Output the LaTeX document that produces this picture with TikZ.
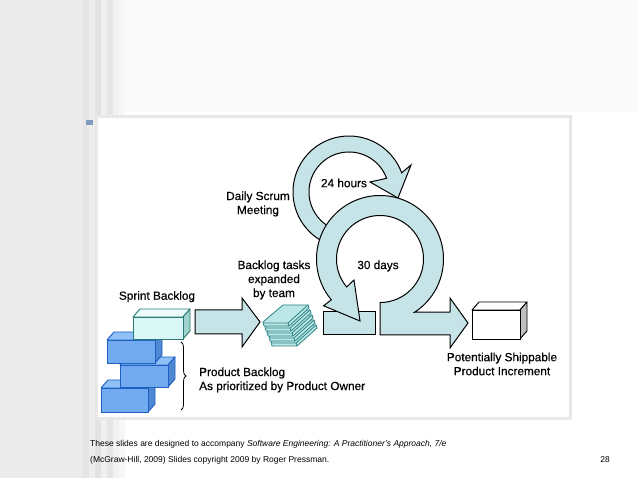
\documentclass[tikz,border=0pt]{standalone}
\usepackage{fontspec}
\setmainfont{Liberation Sans}
\newfontfamily\lblfont[FakeBold=0.4]{Liberation Sans}
\usetikzlibrary{decorations.pathreplacing}
\definecolor{band}{HTML}{C6E3E7}
\definecolor{bfront}{HTML}{72AAF0}
\definecolor{btop}{HTML}{8FC0F6}
\definecolor{bside}{HTML}{4F88D2}
\definecolor{bstroke}{HTML}{1E60C4}
\definecolor{sfront}{HTML}{D9F7F5}
\definecolor{stop}{HTML}{ECFBFA}
\definecolor{sside}{HTML}{A0D2CE}
\definecolor{sstroke}{HTML}{2C7A78}
\definecolor{tfill}{HTML}{BDE6E6}
\definecolor{tstroke}{HTML}{2A8584}
\definecolor{bullet}{HTML}{7F9CC0}
\newcommand\boxthree[8]{%
 \filldraw[draw=#8,fill=#6,line join=round,line width=0.9pt] (#1,#2)--({#1+7},{#2-8})--({#3+7},{#2-8})--(#3,#2)--cycle;
 \filldraw[draw=#8,fill=#7,line join=round,line width=0.9pt] (#3,#2)--({#3+7},{#2-8})--({#3+7},{#4-8})--(#3,#4)--cycle;
 \filldraw[draw=#8,fill=#5,line width=0.9pt] (#1,#2) rectangle (#3,#4);}
\tikzset{lbl/.style={font=\lblfont\fontsize{11.8}{14}\selectfont,align=center,inner sep=0pt},
 foot/.style={anchor=west,inner sep=0pt,font=\fontsize{8.5}{9}\selectfont},
 flow/.style={fill=band,draw=black,line width=1pt,line join=miter}}
\begin{document}
\begin{tikzpicture}[x=1pt,y=-1pt]
\useasboundingbox (0,0) rectangle (638,478);
\fill[white] (0,0) rectangle (638,478);
\fill[black!8] (0,0) rectangle (83,478);
\foreach \i/\c in {83/10,89/7,95/11,101/6,107/10,113/5,119/3}{\fill[black!\c] (\i,0) rectangle ({\i+6},478);}
\fill[black!2] (125,0) rectangle (638,112);
\fill[black!9] (95,115) rectangle (572,420);
\fill[white] (98,118) rectangle (569,417);
\fill[bullet] (86,120) rectangle (93,125);
% product backlog boxes
\boxthree{101}{388}{148}{412}{bfront}{btop}{bside}{bstroke}
\boxthree{120}{365}{168}{387}{bfront}{btop}{bside}{bstroke}
\boxthree{107}{340}{155}{363}{bfront}{btop}{bside}{bstroke}
\boxthree{133}{317}{183}{339}{sfront}{stop}{sside}{sstroke}
\draw[decorate,decoration={brace,amplitude=5pt},line width=0.8pt] (181,342) -- (181,410) coordinate (br);
\node[lbl,anchor=north] (sb) at (157,291) {Sprint Backlog};
\node[lbl,anchor=west,align=left] (pb) at (199,380) {Product Backlog\\As prioritized by Product Owner};
% arrow 1
\filldraw[flow] (195,310)--(242,310)--(242,298)--(260,322)--(242,347)--(242,334)--(195,334)--cycle;
% tasks
\foreach \k in {4,3,2,1,0}{
 \filldraw[draw=tstroke,fill=tfill,line join=round,line width=0.8pt]
  ({263+2*\k},{322+5*\k})--({283+2*\k},{305+5*\k})--({308+2*\k},{305+5*\k})--({309+2*\k},{308+5*\k})--({289+2*\k},{326+5*\k})--({264+2*\k},{326+5*\k})--cycle;
 \draw[tstroke,line width=0.8pt] ({264+2*\k},{323+5*\k})--({288+2*\k},{323+5*\k})--({308+2*\k},{305+5*\k}) ({288+2*\k},{323+5*\k})--({289+2*\k},{326+5*\k});}
\node[lbl] (bt) at (274,280) {Backlog tasks\\expanded\\by team};
% small loop 24 hours
\filldraw[flow] plot[domain=120:340,samples=80] ({349+56*cos(\x)},{192+56*sin(\x)})
 -- (411,165) -- (398,198) -- (370,182) -- plot[domain=340:120,samples=80] ({349+40*cos(\x)},{192+40*sin(\x)}) -- cycle;
\node[lbl] (h24) at (344,183) {24 hours};
\node[lbl] (dsm) at (258,204) {Daily Scrum\\Meeting};
% left base rect
\filldraw[flow] (323,312) rectangle (375,335);
% big loop 30 days
\filldraw[flow] (380,335) -- (380,302.5)
 -- plot[domain=90:-220,samples=120] ({380+43.5*cos(\x)},{259+43.5*sin(\x)})
 -- (354,280) -- (360,321) -- (323.6,305.8)
 -- plot[domain=-220:57,samples=120] ({380+63.5*cos(\x)},{259+63.5*sin(\x)})
 -- (450,312) -- (450,298) -- (468,323) -- (450,348) -- (450,335) -- cycle;
\node[lbl] (d30) at (378,266) {30 days};
% product increment
\boxthree{472}{310}{520}{339}{white}{white}{black!25}{black}
\node[lbl] (ppi) at (502,364) {Potentially Shippable\\Product Increment};
% footer
\node[foot] (f1) at (90,444) {These slides are designed to accompany \textit{Software Engineering: A Practitioner's Approach, 7/e}};
\node[foot] (f2) at (90,460) {(McGraw-Hill, 2009) Slides copyright 2009 by Roger Pressman.};
\node[foot,anchor=east] (pg) at (610,460) {28};
\end{tikzpicture}
\end{document}
